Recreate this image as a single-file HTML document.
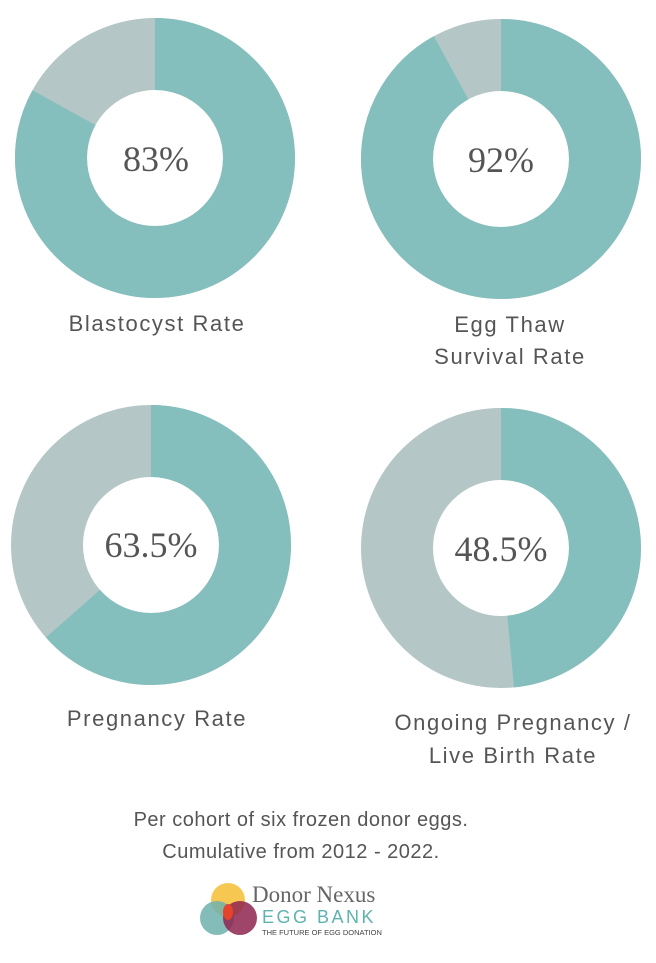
<!DOCTYPE html>
<html><head><style>
body{margin:0;background:#fff;}
svg{display:block}
</style></head><body>
<svg width="656" height="963" xmlns="http://www.w3.org/2000/svg">
<g fill="none" stroke-width="72">
 <g transform="translate(155,158) rotate(-90)">
  <circle r="104" stroke="#b5c6c6"/>
  <circle r="104" stroke="#84bfbd" stroke-dasharray="542.4 700"/>
 </g>
 <g transform="translate(501,159) rotate(-90)">
  <circle r="104" stroke="#b5c6c6"/>
  <circle r="104" stroke="#84bfbd" stroke-dasharray="601.2 700"/>
 </g>
 <g transform="translate(151,545) rotate(-90)">
  <circle r="104" stroke="#b5c6c6"/>
  <circle r="104" stroke="#84bfbd" stroke-dasharray="414.9 700"/>
 </g>
 <g transform="translate(501,548) rotate(-90)">
  <circle r="104" stroke="#b5c6c6"/>
  <circle r="104" stroke="#84bfbd" stroke-dasharray="316.9 700"/>
 </g>
</g>
<g font-family="Liberation Serif, serif" font-size="36" fill="#555" text-anchor="middle">
 <text x="156" y="171">83%</text>
 <text x="501" y="172">92%</text>
 <text x="151" y="557">63.5%</text>
 <text x="501" y="561">48.5%</text>
</g>
<g font-family="Liberation Sans, sans-serif" font-size="22" fill="#555" text-anchor="middle" letter-spacing="1.6">
 <text x="157" y="331">Blastocyst Rate</text>
 <text x="510" y="332">Egg Thaw</text>
 <text x="510" y="364">Survival Rate</text>
 <text x="157" y="726">Pregnancy Rate</text>
 <text x="513" y="730">Ongoing Pregnancy /</text>
 <text x="513" y="763">Live Birth Rate</text>
</g>
<g font-family="Liberation Sans, sans-serif" font-size="20" fill="#555" text-anchor="middle" letter-spacing="0.5">
 <text x="301" y="826">Per cohort of six frozen donor eggs.</text>
 <text x="301" y="858">Cumulative from 2012 - 2022.</text>
</g>
<g>
 <circle cx="228" cy="900" r="17" fill="#f6c23e" opacity="0.9"/>
 <circle cx="217" cy="918" r="17" fill="#6fb0ad" opacity="0.85"/>
 <circle cx="240" cy="918" r="17" fill="#8e2450" opacity="0.85"/>
 <ellipse cx="228" cy="912" rx="5" ry="8" fill="#e5432a"/>
</g>
<text x="252" y="902" font-family="Liberation Serif, serif" font-size="23" fill="#666">Donor Nexus</text>
<text x="262" y="923" font-family="Liberation Sans, sans-serif" font-size="18" fill="#5fb3ae" letter-spacing="2.5">EGG BANK</text>
<text x="262" y="935" font-family="Liberation Sans, sans-serif" font-size="7.5" fill="#444">THE FUTURE OF EGG DONATION</text>
</svg>
</body></html>
